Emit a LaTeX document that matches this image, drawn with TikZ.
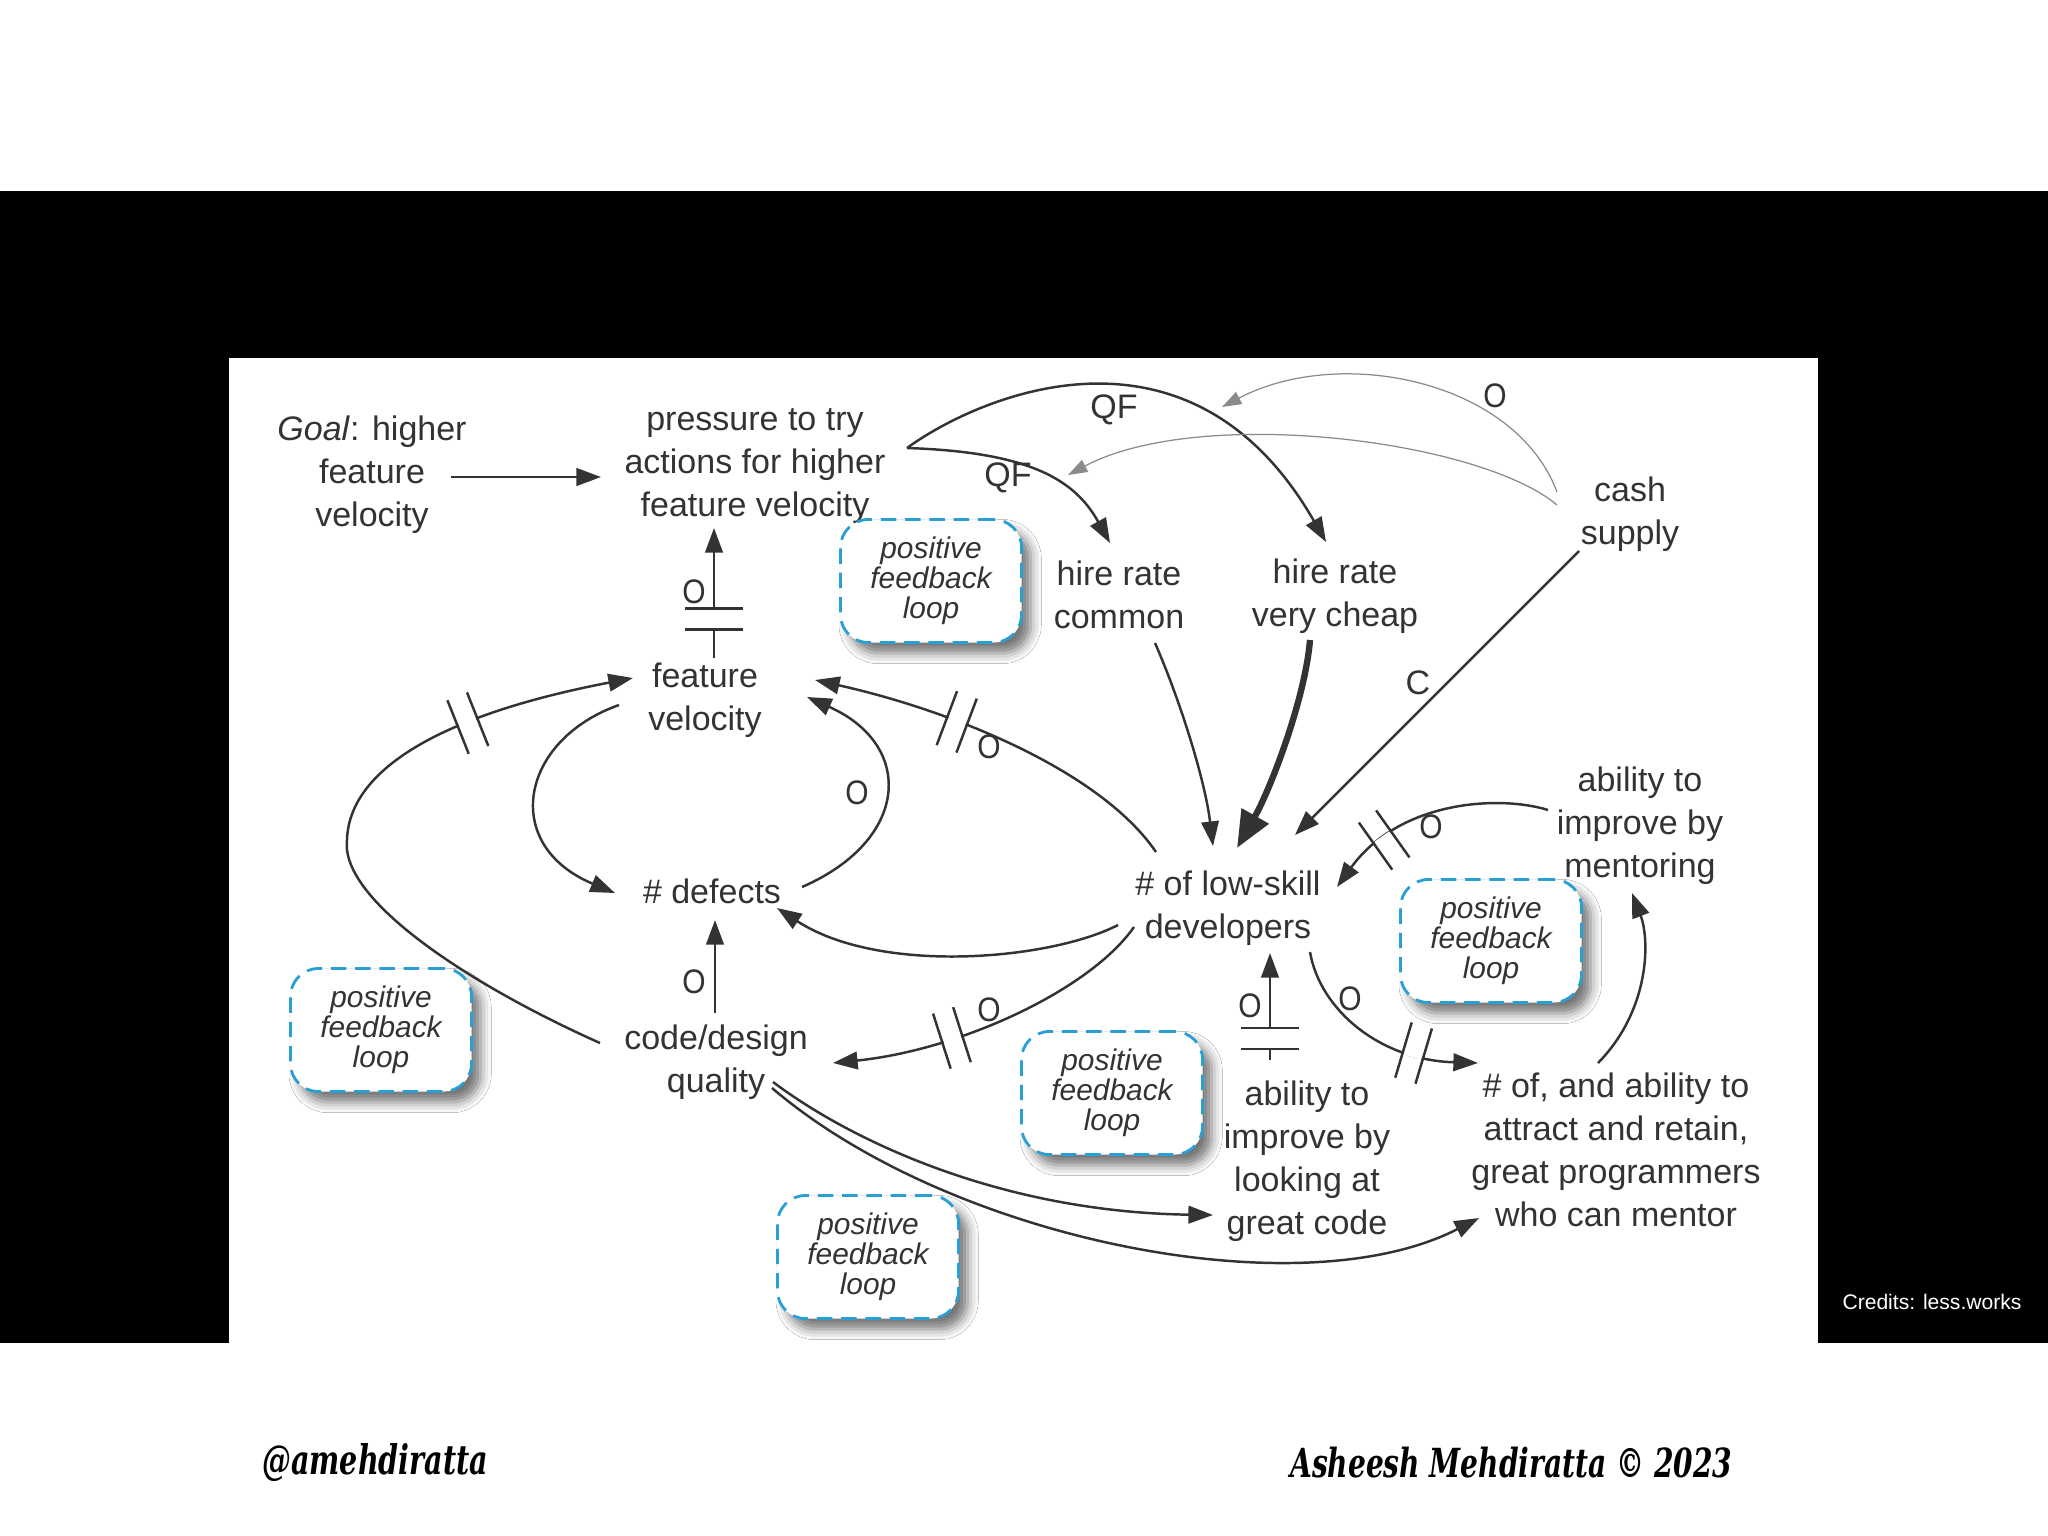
\documentclass[tikz,border=0pt]{standalone}
\usepackage{fontspec}
\setmainfont{Liberation Sans}
\newfontfamily\footfont{DejaVu Serif}[FakeStretch=0.7]
\usetikzlibrary{arrows.meta,decorations.markings,shadows.blur}
\definecolor{inkgrey}{HTML}{333333}
\definecolor{loopblue}{HTML}{2A9FD6}
\definecolor{linkgrey}{HTML}{8A8A8A}
\newcommand{\oppsign}{\scalebox{0.88}[1]{O}}

\begin{document}
\begin{tikzpicture}[x=0.01cm, y=-0.01cm,
  var/.style={align=center, inner sep=0pt, text=inkgrey, font=\fontsize{9.67}{12.2}\selectfont},
  tag/.style={inner sep=0pt, text=inkgrey, font=\fontsize{9.67}{12.2}\selectfont},
  loopbox/.style={draw=loopblue, line width=0.8pt, dash pattern=on 4.4pt off 2.5pt,
    rounded corners=8pt, fill=white, minimum width=1.81cm, minimum height=1.23cm,
    align=center, text=inkgrey, font=\fontsize{8.5}{8.6}\selectfont\itshape,
    blur shadow={shadow xshift=2.6pt, shadow yshift=-3pt, shadow blur radius=3pt, shadow opacity=55}},
  link/.style={draw=inkgrey, line width=0.7pt, -{Triangle[length=7pt,width=5pt]}},
  thicklink/.style={draw=inkgrey, line width=1.8pt, -{Triangle[length=10.5pt,width=8.5pt]}},
  thinlink/.style={draw=linkgrey, line width=0.35pt, -{Triangle[length=5.5pt,width=3.8pt]}},
  delaybars/.style={postaction={decorate, decoration={markings, mark=at position #1 with {
      \fill[white] (-2.6pt,-1.2pt) rectangle (2.6pt,1.2pt);
      \draw[-, inkgrey, line width=0.7pt] (-3pt,-8.2pt) -- (-3pt,8.2pt) (3pt,-8.2pt) -- (3pt,8.2pt);}}}}
]
% page, black band and panel
\fill[white] (0,0) rectangle (2048,1536);
\fill[black] (0,191) rectangle (2048,1343);
\fill[white] (229,358) rectangle (1818,1343);
\useasboundingbox (0,0) rectangle (2048,1536);

% variables
\node[var] (goal) at (372,475) {\textit{Goal}: higher\\feature\\velocity};
\node[var] (press) at (755,466) {pressure to try\\actions for higher\\feature velocity};
\node[var] (hrc) at (1119,595) {hire rate\\common};
\node[var] (hrv) at (1335,596) {hire rate\\very cheap};
\node[var] (cash) at (1630,514) {cash\\supply};
\node[var] (fv) at (705,700) {feature\\velocity};
\node[var] (dfx) at (712,891) {\# defects};
\node[var] (lsd) at (1228,908) {\# of low-skill\\developers};
\node[var] (ment) at (1640,826) {ability to\\improve by\\mentoring};
\node[var] (cdq) at (716,1062) {code/design\\quality};
\node[var] (look) at (1307,1161) {ability to\\improve by\\looking at\\great code};
\node[var] (great) at (1616,1150) {\# of, and ability to\\attract and retain,\\great programmers\\who can mentor};

% loop boxes
\node[loopbox] (fb1) at (931,581) {positive\\feedback\\loop};
\node[loopbox] (fb2) at (381,1030) {positive\\feedback\\loop};
\node[loopbox] (fb3) at (1491,941) {positive\\feedback\\loop};
\node[loopbox] (fb4) at (1112,1093) {positive\\feedback\\loop};
\node[loopbox] (fb5) at (868,1257) {positive\\feedback\\loop};

% goal and quick fixes
\draw[link] ([shift={(79,2)}]goal.center) -- ([shift={(-154,11)}]press.center);
\draw[link] ([shift={(152,-18)}]press.center) .. controls (1030,452) and (1075,480) .. ([shift={(-9,-52)}]hrc.center);
\draw[link] ([shift={(152,-18)}]press.center) .. controls (980,395) and (1190,305) .. ([shift={(-9,-54)}]hrv.center);
\coordinate (qfhi) at (1222,407);
\coordinate (qflo) at (1068,475);
\draw[thinlink] ([shift={(-73,-22)}]cash.center) .. controls (1515,380) and (1340,345) .. (qfhi);
\draw[thinlink] ([shift={(-73,-9)}]cash.center) .. controls (1480,440) and (1200,405) .. (qflo);
\node[tag] (qf1) at (1114,410) {QF};
\node[tag] (qf2) at (1008,478) {QF};
\node[tag] (o1) at (1495,396) {\oppsign};

% hiring into low-skill developers
\draw[link] ([shift={(36,48)}]hrc.center) .. controls (1180,700) and (1205,780) .. ([shift={(-15,-62)}]lsd.center);
\draw[thicklink] ([shift={(-25,44)}]hrv.center) .. controls (1305,700) and (1270,790) .. ([shift={(9,-60)}]lsd.center);
\draw[link] ([shift={(-51,37)}]cash.center) -- ([shift={(67,-73)}]lsd.center);
\node[tag] (c1) at (1418,683) {C};

% feature velocity and defects
\draw[link, delaybars=0.3] ([shift={(9,-42)}]fv.center) -- ([shift={(-41,62)}]press.center);
\node[tag] (o2) at (694,592) {\oppsign};
\draw[link] ([shift={(-1,-49)}]cdq.center) -- ([shift={(3,29)}]dfx.center);
\node[tag] (o3) at (694,982) {\oppsign};
\draw[link] ([shift={(-86,5)}]fv.center) .. controls (520,740) and (500,845) .. ([shift={(-97,2)}]dfx.center);
\draw[link] ([shift={(90,-4)}]dfx.center) .. controls (910,840) and (915,745) .. ([shift={(102,-3)}]fv.center);
\node[tag] (o4) at (857,793) {\oppsign};
\draw[link, delaybars=0.75] ([shift={(-116,-19)}]cdq.center) .. controls (470,985) and (340,900) .. (347,840)
  .. controls (349,770) and (440,715) .. ([shift={(-72,-22)}]fv.center);

% effects of low-skill developers
\draw[link, delaybars=0.62] ([shift={(-72,-56)}]lsd.center) .. controls (1100,770) and (950,710) .. ([shift={(110,-20)}]fv.center);
\node[tag] (o5) at (989,747) {\oppsign};
\draw[link] ([shift={(-110,17)}]lsd.center) .. controls (1050,960) and (880,975) .. ([shift={(65,17)}]dfx.center);
\draw[link, delaybars=0.64] ([shift={(-94,19)}]lsd.center) .. controls (1090,990) and (960,1050) .. ([shift={(117,1)}]cdq.center);
\node[tag] (o6) at (989,1010) {\oppsign};
\draw[link, delaybars=0.2] ([shift={(-37,-101)}]look.center) -- ([shift={(42,45)}]lsd.center);
\node[tag] (o7) at (1250,1006) {\oppsign};
\draw[link, delaybars=0.7] ([shift={(82,44)}]lsd.center) .. controls (1320,1010) and (1380,1060) .. ([shift={(-138,-87)}]great.center);
\node[tag] (o8) at (1350,999) {\oppsign};
\draw[link] ([shift={(-18,-87)}]great.center) .. controls (1650,1010) and (1650,940) .. ([shift={(-8,67)}]ment.center);
\draw[link, delaybars=0.72] ([shift={(-92,-16)}]ment.center) .. controls (1500,795) and (1400,800) .. ([shift={(109,-21)}]lsd.center);
\node[tag] (o9) at (1431,827) {\oppsign};

% code quality outward
\draw[link] ([shift={(57,20)}]cdq.center) .. controls (850,1140) and (1000,1212) .. ([shift={(-94,54)}]look.center);
\draw[link] ([shift={(56,26)}]cdq.center) .. controls (950,1240) and (1300,1310) .. ([shift={(-137,68)}]great.center);

% credits and footer
\node[text=white, inner sep=0pt, font=\fontsize{6}{7}\selectfont] (credit) at (1932,1302) {Credits: less.works};
\node[anchor=west, inner sep=0pt, font=\footfont\bfseries\itshape\fontsize{11.6}{13}\selectfont] (handle) at (262,1463) {@amehdiratta};
\node[anchor=east, inner sep=0pt, font=\footfont\bfseries\itshape\fontsize{11.4}{13}\selectfont] (owner) at (1733,1463) {Asheesh Mehdiratta © 2023};
\end{tikzpicture}
\end{document}
